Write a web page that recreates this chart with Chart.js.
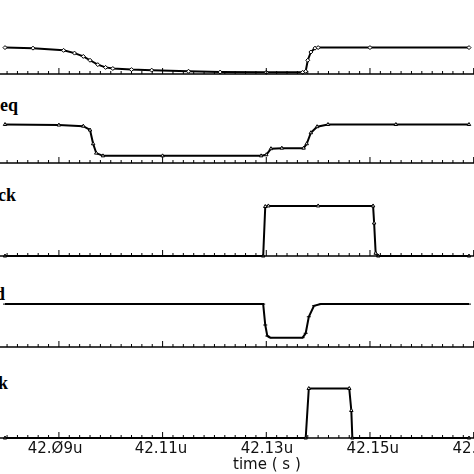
<!DOCTYPE html>
<html><head><meta charset="utf-8">
<script src="https://cdn.jsdelivr.net/npm/chart.js@4"></script>
<style>
body{margin:0;background:#fff;width:474px;height:474px;overflow:hidden;position:relative;font-family:"Liberation Serif",serif}
canvas{position:absolute;left:0}
.lab{position:absolute;font:bold 18px "Liberation Serif",serif;color:#000}
.tl{position:absolute;font:15px "DejaVu Sans",sans-serif;color:#111;transform:translateX(-50%)}
</style></head><body>
<div class="lab" style="left:0;top:95px">eq</div>
<div class="lab" style="left:-2px;top:185px">ck</div>
<div class="lab" style="left:-5px;top:284px">d</div>
<div class="lab" style="left:-2px;top:373px">k</div>
<script>
const xMin = 42.0796, xMax = 42.1691;
const tickLabels = ["42.Ø9u","42.11u","42.13u","42.15u","42.17u"];
const tickValues = [42.09,42.11,42.13,42.15,42.17];
const axisTitle = "time ( s )";
const s1 = [[42.0796,0.48],[42.0850,0.47],[42.0909,0.43],[42.0930,0.38],[42.0947,0.32],[42.0960,0.25],[42.0975,0.17],[42.0990,0.12],[42.1004,0.10],[42.1040,0.08],[42.1079,0.07],[42.1150,0.05],[42.1211,0.035],[42.1300,0.03],[42.1370,0.03],[42.1376,0.05],[42.1380,0.25],[42.1386,0.40],[42.1394,0.47],[42.1400,0.48],[42.1500,0.48],[42.1691,0.48]];
const s2 = [[42.0796,0.70],[42.0900,0.69],[42.0947,0.67],[42.0960,0.60],[42.0966,0.35],[42.0972,0.18],[42.0985,0.13],[42.1100,0.13],[42.1290,0.13],[42.1300,0.15],[42.1309,0.26],[42.1330,0.27],[42.1372,0.27],[42.1378,0.35],[42.1386,0.55],[42.1398,0.66],[42.1419,0.70],[42.1550,0.70],[42.1691,0.70]];
const s3 = [[42.0796,0],[42.1294,0],[42.1298,0.90],[42.1304,0.91],[42.1400,0.91],[42.1506,0.91],[42.1508,0.60],[42.1511,0.05],[42.1516,0],[42.1691,0]];
const s4 = [[42.0796,0.78],[42.1294,0.78],[42.1298,0.40],[42.1302,0.20],[42.1308,0.17],[42.1370,0.17],[42.1376,0.25],[42.1382,0.55],[42.1392,0.75],[42.1405,0.78],[42.1691,0.78]];
const s5 = [[42.0796,0],[42.1376,0],[42.1382,0.90],[42.1460,0.90],[42.1464,0.50],[42.1466,0],[42.1691,0]];
const panels = [
 {data:s1, axis:74, style:'rectRot'},
 {data:s2, axis:163, style:'triangle'},
 {data:s3, axis:256, style:'triangle'},
 {data:s4, axis:347, style:'line'},
 {data:s5, axis:438, style:'triangle'}
];
const H = 60, PAD = 8;
const axisPlugin = {
 id:'ax',
 afterDraw(c){
  const ctx=c.ctx, xs=c.scales.x, ys=c.scales.y, y0=ys.getPixelForValue(0);
  ctx.save();ctx.strokeStyle='#000';ctx.lineWidth=1.3;
  ctx.beginPath();ctx.moveTo(0,y0);ctx.lineTo(c.width,y0);ctx.stroke();
  ctx.lineWidth=1;
  for(let k=0;k<=50;k++){
   const v=42.07+k*0.002, px=xs.getPixelForValue(v);
   if(px<0||px>c.width)continue;
   const major=Math.abs(((v-42.01)/0.02)-Math.round((v-42.01)/0.02))<1e-6;
   ctx.beginPath();ctx.moveTo(px,y0);ctx.lineTo(px,y0-(major?6:3));ctx.stroke();
  }
  ctx.restore();
 }
};
panels.forEach((p,i)=>{
 const cv=document.createElement('canvas');
 cv.style.top=(p.axis-H)+'px';
 cv.style.width='474px';cv.style.height=(H+PAD)+'px';
 document.body.appendChild(cv);
 new Chart(cv,{type:'scatter',
  data:{datasets:[{data:p.data.map(d=>({x:d[0],y:d[1]})),showLine:true,borderColor:'#000',borderWidth:2,
   backgroundColor:'#fff',pointBorderColor:'#000',pointRadius:2,pointBorderWidth:1,pointStyle:p.style}]},
  options:{responsive:false,animation:false,devicePixelRatio:1,clip:false,
   layout:{padding:{left:0,right:0,top:0,bottom:PAD}},
   plugins:{legend:{display:false},tooltip:{enabled:false}},
   scales:{x:{type:'linear',min:xMin,max:xMax,display:false},
           y:{min:0,max:1,display:false}}},
  plugins:[axisPlugin]});
 if(i===panels.length-1){
  const xs=(v)=>(v-xMin)/(xMax-xMin)*474;
  tickValues.forEach((v,j)=>{const d=document.createElement('div');d.className='tl';
   d.style.left=xs(v)+'px';d.style.top='439px';d.textContent=tickLabels[j];document.body.appendChild(d);});
  const t=document.createElement('div');t.className='tl';t.style.left=xs(42.13)+'px';t.style.top='455px';t.textContent=axisTitle;document.body.appendChild(t);
 }
});
</script></body></html>
